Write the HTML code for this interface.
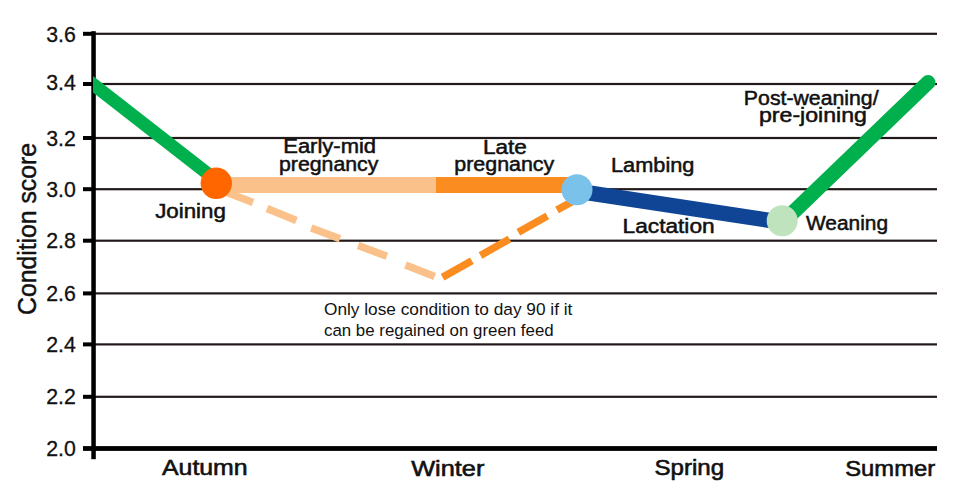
<!DOCTYPE html>
<html><head><meta charset="utf-8">
<style>
html,body{margin:0;padding:0;background:#fff;width:960px;height:494px;overflow:hidden}
svg{display:block}
text{font-family:"Liberation Sans",sans-serif;fill:#111}
.yl{font-size:22.2px;stroke:#111;stroke-width:0.3}
.xl{font-size:22px;stroke:#111;stroke-width:0.6}
.lb{font-size:19.5px;stroke:#111;stroke-width:0.5}
.nt{font-size:16.3px}
.yt{font-size:25px;stroke:#111;stroke-width:0.45}
</style></head>
<body>
<svg width="960" height="494" viewBox="0 0 960 494">
<defs>
<clipPath id="plot"><rect x="93" y="0" width="867" height="494"/></clipPath>
</defs>
<g fill="#221a1a">
<rect x="93" y="32.70" width="844" height="2.2"/>
<rect x="93" y="82.90" width="844" height="2.2"/>
<rect x="93" y="136.90" width="844" height="2.2"/>
<rect x="93" y="188.10" width="844" height="2.2"/>
<rect x="93" y="239.60" width="844" height="2.2"/>
<rect x="93" y="292.30" width="844" height="2.2"/>
<rect x="93" y="343.30" width="844" height="2.2"/>
<rect x="93" y="395.70" width="844" height="2.2"/>
</g>
<g fill="#000">
<rect x="83" y="31.80" width="11" height="4"/>
<rect x="83" y="82.00" width="11" height="4"/>
<rect x="83" y="136.00" width="11" height="4"/>
<rect x="83" y="187.20" width="11" height="4"/>
<rect x="83" y="238.70" width="11" height="4"/>
<rect x="83" y="291.40" width="11" height="4"/>
<rect x="83" y="342.40" width="11" height="4"/>
<rect x="83" y="394.80" width="11" height="4"/>
<rect x="83" y="446.1" width="854" height="4.8"/>
<rect x="91.3" y="31.2" width="4.5" height="428"/>
</g>
<g clip-path="url(#plot)">
<line x1="80" y1="74.1" x2="216.3" y2="180.4" stroke="#00b04c" stroke-width="13"/>
</g>
<rect x="216" y="177" width="220" height="16" fill="#fbc18a"/>
<rect x="436" y="177" width="141" height="16" fill="#fb8c20"/>
<g stroke="#fbc18a" stroke-width="7.5">
<line x1="222" y1="190.5" x2="253" y2="202.5"/>
<line x1="267" y1="208.5" x2="296.4" y2="220.5"/>
<line x1="311.25" y1="228.1" x2="340" y2="238.75"/>
<line x1="358.1" y1="245.6" x2="386.9" y2="256.25"/>
<line x1="405.5" y1="264.9" x2="434.7" y2="276.5"/>
</g>
<g stroke="#fb8c20" stroke-width="7.5">
<line x1="442.6" y1="277.2" x2="471.9" y2="260.7"/>
<line x1="480.5" y1="255.4" x2="509.5" y2="239"/>
<line x1="518.3" y1="232.3" x2="547.3" y2="215.9"/>
<line x1="557" y1="210" x2="575" y2="200"/>
</g>
<line x1="577" y1="191.1" x2="782.2" y2="222.3" stroke="#0f4594" stroke-width="15.5"/>
<line x1="784.5" y1="220.7" x2="928" y2="82.5" stroke="#00b04c" stroke-width="14.8" stroke-linecap="round"/>
<circle cx="216.3" cy="183.3" r="15.7" fill="#ff6600"/>
<circle cx="577" cy="189.8" r="15.5" fill="#7ac2e9"/>
<circle cx="782.2" cy="220.7" r="15.5" fill="#bfe4bd"/>
<text class="yl" x="46.20" y="42.20" textLength="29.60" lengthAdjust="spacingAndGlyphs">3.6</text>
<text class="yl" x="46.20" y="90.30" textLength="29.60" lengthAdjust="spacingAndGlyphs">3.4</text>
<text class="yl" x="46.20" y="145.60" textLength="29.60" lengthAdjust="spacingAndGlyphs">3.2</text>
<text class="yl" x="46.20" y="196.60" textLength="29.60" lengthAdjust="spacingAndGlyphs">3.0</text>
<text class="yl" x="46.20" y="247.60" textLength="29.60" lengthAdjust="spacingAndGlyphs">2.8</text>
<text class="yl" x="46.20" y="300.60" textLength="29.60" lengthAdjust="spacingAndGlyphs">2.6</text>
<text class="yl" x="46.20" y="352.20" textLength="29.60" lengthAdjust="spacingAndGlyphs">2.4</text>
<text class="yl" x="46.20" y="403.90" textLength="29.60" lengthAdjust="spacingAndGlyphs">2.2</text>
<text class="yl" x="46.20" y="455.60" textLength="29.60" lengthAdjust="spacingAndGlyphs">2.0</text>
<text class="xl" x="162.00" y="474.80" textLength="85.65" lengthAdjust="spacingAndGlyphs">Autumn</text>
<text class="xl" x="411.22" y="475.50" textLength="73.10" lengthAdjust="spacingAndGlyphs">Winter</text>
<text class="xl" x="654.52" y="475.20" textLength="69.66" lengthAdjust="spacingAndGlyphs">Spring</text>
<text class="xl" x="845.28" y="475.50" textLength="89.82" lengthAdjust="spacingAndGlyphs">Summer</text>
<text class="lb" x="155.18" y="217.50" textLength="70.70" lengthAdjust="spacingAndGlyphs">Joining</text>
<text class="lb" x="283.22" y="153.10" textLength="92.87" lengthAdjust="spacingAndGlyphs">Early-mid</text>
<text class="lb" x="278.99" y="171.00" textLength="99.40" lengthAdjust="spacingAndGlyphs">pregnancy</text>
<text class="lb" x="482.99" y="153.70" textLength="43.94" lengthAdjust="spacingAndGlyphs">Late</text>
<text class="lb" x="454.29" y="171.00" textLength="100.02" lengthAdjust="spacingAndGlyphs">pregnancy</text>
<text class="lb" x="611.02" y="171.60" textLength="83.40" lengthAdjust="spacingAndGlyphs">Lambing</text>
<text class="lb" x="622.55" y="232.90" textLength="92.12" lengthAdjust="spacingAndGlyphs">Lactation</text>
<text class="lb" x="806.00" y="230.00" textLength="82.00" lengthAdjust="spacingAndGlyphs">Weaning</text>
<text class="lb" x="743.88" y="104.50" textLength="134.72" lengthAdjust="spacingAndGlyphs">Post-weaning/</text>
<text class="lb" x="758.99" y="122.40" textLength="107.99" lengthAdjust="spacingAndGlyphs">pre-joining</text>
<text class="nt" x="323.97" y="315.40" textLength="248.41" lengthAdjust="spacingAndGlyphs">Only lose condition to day 90 if it</text>
<text class="nt" x="323.99" y="335.80" textLength="229.67" lengthAdjust="spacingAndGlyphs">can be regained on green feed</text>
<text class="yt" transform="translate(35.5,315) rotate(-90)" textLength="172" lengthAdjust="spacingAndGlyphs">Condition score</text>
</svg>
</body></html>
